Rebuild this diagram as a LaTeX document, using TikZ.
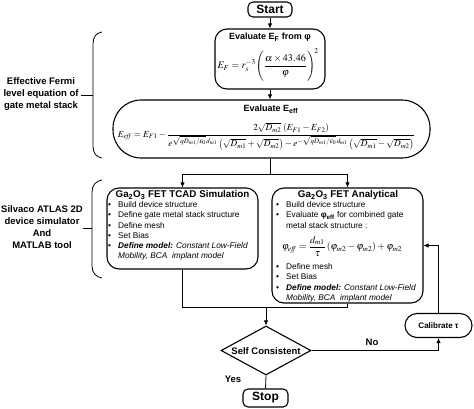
\documentclass[tikz,border=0pt]{standalone}
\usepackage{mathptmx}
\usepackage[no-math]{fontspec}
\setmainfont{Liberation Sans}
\usepackage{amsmath}
\usepackage{graphicx}
\usetikzlibrary{shapes.geometric,arrows.meta}
\newcommand\bitem{\makebox[10pt][l]{\textbullet}}
\newcommand\bcont{\hspace*{10pt}}
\begin{document}
\begin{tikzpicture}[x=1pt,y=-1pt,
  box/.style={draw, line width=1.1pt, inner sep=0pt},
  conn/.style={line width=0.8pt},
  arr/.style={line width=0.8pt, -{Latex[length=5pt,width=4.5pt]}},
  ttl/.style={font=\fontsize{9.8}{11}\selectfont\bfseries, inner sep=0pt},
  lbl/.style={font=\fontsize{9.5}{12}\selectfont\bfseries, align=center, inner sep=0pt},
  lst/.style={font=\fontsize{8.3}{10.2}\selectfont, align=left, inner sep=0pt, anchor=north west},
  brace/.style={line width=0.8pt}]
\useasboundingbox (0,0) rectangle (474,408);
\fill[white] (0,0) rectangle (474,408);

% boxes
\node[box, rounded corners=5pt, minimum width=44pt, minimum height=15pt,
      font=\fontsize{12}{14}\selectfont\bfseries] (start) at (270,9.5) {Start};
\node[box, rounded corners=12pt, minimum width=110pt, minimum height=60pt] (ef) at (270,59) {};
\node[box, rounded corners=28pt, minimum width=317pt, minimum height=58pt] (eeff) at (271.5,129) {};
\node[box, rounded corners=12pt, minimum width=151pt, minimum height=81pt] (tcad) at (182.5,228.5) {};
\node[box, rounded corners=12pt, minimum width=151pt, minimum height=115pt] (ana) at (347.5,245.5) {};
\node[box, diamond, minimum width=90pt, minimum height=49pt] (dia) at (266,350.5) {};
\node[box, rounded corners=5pt, minimum width=45pt, minimum height=18pt,
      font=\fontsize{12}{14}\selectfont\bfseries] (stop) at (265.5,398) {Stop};
\node[box, rounded corners=12pt, minimum width=67pt, minimum height=24pt,
      font=\fontsize{8}{10}\selectfont\bfseries] (calib) at (438.5,325.5) {Calibrate τ};

% texts in boxes
\node[ttl, font=\fontsize{9}{11}\selectfont\bfseries] (eftitle) at (270,37) {Evaluate E\textsubscript{F} from φ};
\node[inner sep=0pt] (efform) at (268,65)
  {\resizebox{101pt}{!}{$E_F = r_s^{-3}\Biggl(\dfrac{\alpha\times 43.46}{\varphi}\Biggr)^{\!2}$}};
\node[ttl, font=\fontsize{9}{11}\selectfont\bfseries] (eefftitle) at (271,109) {Evaluate E\textsubscript{eff}};
\node[inner sep=0pt] (eeffform) at (266.5,136.5)
  {\resizebox{297pt}{!}{$E_{\mathit{eff}} = E_{F1} - \dfrac{2\sqrt{D_{m2}}\,\left(E_{F1}-E_{F2}\right)}{e^{\sqrt{qD_{m1}/\varepsilon_0}\,d_{m1}}\left(\sqrt{D_{m1}}+\sqrt{D_{m2}}\right)-e^{-\sqrt{qD_{m1}/\varepsilon_0}\,d_{m1}}\left(\sqrt{D_{m1}}-\sqrt{D_{m2}}\right)}$}};

\node[ttl] (tcadtitle) at (182.5,195) {Ga\textsubscript{2}O\textsubscript{3} FET TCAD Simulation};
\node[lst] (tcadlist) at (108,201.5) {\bitem Build device structure\\
  \bitem Define gate metal stack structure\\
  \bitem Define mesh\\
  \bitem Set Bias\\
  \bitem \textbf{\textit{Define model:}} \textit{Constant Low-Field}\\
  \bcont\textit{Mobility, BCA\ \ implant model}};

\node[ttl] (anatitle) at (348,195) {Ga\textsubscript{2}O\textsubscript{3} FET Analytical};
\node[lst] (analist1) at (276,201.5) {\bitem Build device structure\\
  \bitem Evaluate \textbf{φ\textsubscript{eff}} for combined gate\\
  \bcont metal stack structure :};
\node[inner sep=0pt] (anaform) at (342,246.5)
  {\resizebox{120pt}{!}{$\varphi_{\mathit{eff}} = \dfrac{d_{m1}}{\tau}\left(\varphi_{m2}-\varphi_{m2}\right)+\varphi_{m2}$}};
\node[lst] (analist2) at (276,263.5) {\bitem Define mesh\\
  \bitem Set Bias\\
  \bitem \textbf{\textit{Define model:}} \textit{Constant Low-Field}\\
  \bcont\textit{Mobility, BCA\ \ implant model}};

\node[lbl] (sctxt) at (266,351) {Self Consistent};
\node[lbl] (yes) at (233,379) {Yes};
\node[lbl] (no) at (372,342) {No};

% side labels and braces
\node[lbl] (lab1) at (41,94.5) {Effective Fermi\\level equation of\\gate metal stack};
\node[lbl] (lab2) at (42,227.5) {Silvaco ATLAS 2D\\device simulator\\And\\MATLAB tool};
\draw[brace] (102,32) .. controls (96,33) and (93,37) .. (93,44) -- (93,146)
  .. controls (93,153) and (96,157) .. (102,158);
\draw[brace] (81,95) -- (93,95);
\draw[brace] (102,180) .. controls (96,181) and (92,185) .. (92,192) -- (92,266)
  .. controls (92,273) and (96,277) .. (102,278);
\draw[brace] (83,228) -- (92,228);

% connectors
\draw[arr] (start.south) -- (ef.north);
\draw[arr] (ef.south) -- (ef.south |- eeff.north);
\coordinate (split) at (270,174);
\draw[conn] (split |- eeff.south) -- (split);
\draw[arr] (split) -| (tcad.north);
\draw[arr] (split) -| (ana.north);
\coordinate (merge) at (266,307);
\draw[conn] (tcad.south) |- (merge);
\draw[conn] (ana.south) |- (merge);
\draw[arr] (merge) -- (dia.north);
\draw[arr] (dia.east) -| (calib.south);
\draw[arr] (calib.north) |- (ana.east);
\draw[conn] (dia.south) -- (stop.north);
\end{tikzpicture}
\end{document}
